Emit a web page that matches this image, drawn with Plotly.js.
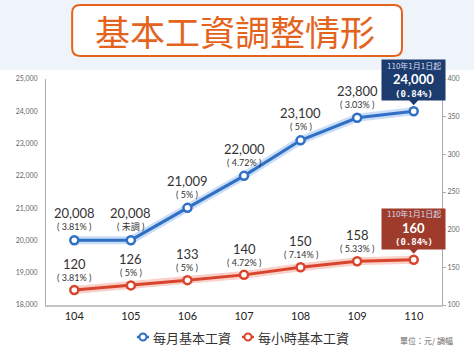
<!DOCTYPE html>
<html><head><meta charset="utf-8">
<script src="https://cdn.plot.ly/plotly-3.0.1.min.js"></script>
<style>html,body{margin:0;padding:0;background:#fff;}#chart{width:474px;height:354px;}</style>
</head><body><div id="chart"></div>
<script>
const years = ['104','105','106','107','108','109','110'];
const monthly = [20008,20008,21009,22000,23100,23800,24000];
const hourly = [120,126,133,140,150,158,160];
const monthlyPct = ['( 3.81% )','( 未調 )','( 5% )','( 4.72% )','( 5% )','( 3.03% )','(0.84%)'];
const hourlyPct = ['( 3.81% )','( 5% )','( 5% )','( 4.72% )','( 7.14% )','( 5.33% )','(0.84%)'];
const calloutDate = '110年1月1日起';
const seriesNames = ['每月基本工資','每小時基本工資'];
const titleText = '基本工資調整情形';
const unitText = '單位：元/ 調幅';

const BLUE = '#2f6fc4', RED = '#d8452c';
const BOXBLUE = '#1c3b6f', BOXRED = '#9e3b2b';
const FONT = 'Lato, "Noto Sans CJK TC", sans-serif';
const CJK = '"Noto Sans CJK TC", sans-serif';

const traces = [
  {x: years, y: monthly, mode: 'lines', line: {color: 'rgba(120,170,235,0.4)', width: 8}, hoverinfo: 'skip', showlegend: false},
  {x: years, y: hourly, yaxis: 'y2', mode: 'lines', line: {color: 'rgba(240,135,115,0.38)', width: 8}, hoverinfo: 'skip', showlegend: false},
  {x: years, y: monthly, name: seriesNames[0], mode: 'lines+markers', line: {color: BLUE, width: 3},
   marker: {size: 8, color: '#fff', line: {color: BLUE, width: 2.5}}, showlegend: false},
  {x: years, y: hourly, name: seriesNames[1], yaxis: 'y2', mode: 'lines+markers', line: {color: RED, width: 3},
   marker: {size: 8, color: '#fff', line: {color: RED, width: 2.5}}, showlegend: false}
];

const fmt = v => v.toLocaleString('en-US');
const ann = [];
const shapes = [
  {type: 'rect', xref: 'paper', yref: 'paper', x0: -0.2, x1: 1.1, y0: 1.04, y1: 1.36, fillcolor: '#eef4fa', line: {width: 0}, layer: 'below'},
  {type: 'path', xref: 'paper', yref: 'paper', layer: 'above',
   path: 'M 0.086 1.327 L 0.879 1.327 Q 0.899 1.327 0.899 1.292 L 0.899 1.137 Q 0.899 1.102 0.879 1.102 L 0.086 1.102 Q 0.066 1.102 0.066 1.137 L 0.066 1.292 Q 0.066 1.327 0.086 1.327 Z',
   fillcolor: '#ffffff', line: {color: '#e4641e', width: 2}}
];
const last = years.length - 1;
const base = {showarrow: false, xanchor: 'center', yanchor: 'middle', borderpad: 0};
for (let i = 0; i < last; i++) {
  ann.push({...base, x: i, y: monthly[i], yref: 'y', text: fmt(monthly[i]), yshift: 27, font: {family: FONT, size: 13, color: '#333'}});
  ann.push({...base, x: i, y: monthly[i], yref: 'y', text: monthlyPct[i], yshift: 13.5, font: {family: FONT, size: 9, color: '#333'}});
  ann.push({...base, x: i, y: hourly[i], yref: 'y2', text: fmt(hourly[i]), yshift: 26, font: {family: FONT, size: 13, color: '#333'}});
  ann.push({...base, x: i, y: hourly[i], yref: 'y2', text: hourlyPct[i], yshift: 12.5, font: {family: FONT, size: 9, color: '#333'}});
}
// callouts: box as an annotation background, pointer as a pixel-sized shape anchored on the last point
[[monthly[last], 'y', BOXBLUE, monthlyPct[last]], [hourly[last], 'y2', BOXRED, hourlyPct[last]]].forEach(([v, yr, col, pct]) => {
  ann.push({...base, x: last, y: v, yref: yr, text: ' ', yshift: 31, width: 63, height: 40, bgcolor: col, font: {size: 8}});
  shapes.push({type: 'path', xref: 'x', yref: yr, xsizemode: 'pixel', ysizemode: 'pixel', xanchor: last, yanchor: v,
    path: 'M -5 11.5 L 0 6 L 5 11.5 Z', fillcolor: col, line: {width: 0}, layer: 'above'});
  ann.push({...base, x: last, y: v, yref: yr, text: calloutDate, yshift: 46, font: {family: CJK, size: 8, color: '#d5dceb'}});
  ann.push({...base, x: last, y: v, yref: yr, text: '<b>' + fmt(v) + '</b>', yshift: 32, font: {family: FONT, size: 13, color: '#fff'}});
  ann.push({...base, x: last, y: v, yref: yr, text: '<b>' + pct + '</b>', yshift: 17.5, font: {family: '"DejaVu Sans Mono", monospace', size: 9, color: '#fff'}});
});
// title and unit
ann.push({...base, xref: 'paper', yref: 'paper', x: 0.478, y: 1.215, text: titleText, font: {family: CJK, size: 35, color: '#e4641e'}});
ann.push({...base, xref: 'paper', yref: 'paper', x: 1.03, y: -0.155, xanchor: 'right', text: unitText, font: {family: CJK, size: 8, color: '#666'}});
// legend (compact line+circle glyphs)
const legY = -0.1416;
[[0.2449, BLUE, seriesNames[0]], [0.5101, RED, seriesNames[1]]].forEach(([cx, col, name]) => {
  shapes.push({type: 'line', xref: 'paper', yref: 'paper', x0: cx - 0.0152, x1: cx + 0.0152, y0: legY, y1: legY, line: {color: col, width: 2.5}});
  shapes.push({type: 'circle', xref: 'paper', yref: 'paper', xsizemode: 'pixel', ysizemode: 'pixel', xanchor: cx, yanchor: legY,
    x0: -3.5, x1: 3.5, y0: -3.5, y1: 3.5, fillcolor: '#fff', line: {color: col, width: 2}});
  ann.push({...base, xref: 'paper', yref: 'paper', x: cx + 0.0228, y: legY, xanchor: 'left', text: name, font: {family: CJK, size: 13, color: '#333'}});
});

const layout = {
  width: 474, height: 354,
  margin: {l: 46, r: 32, t: 79, b: 49},
  paper_bgcolor: '#ffffff', plot_bgcolor: '#ffffff',
  font: {family: FONT},
  xaxis: {type: 'category', range: [-0.5, 6.5], showgrid: false, zeroline: false,
    showline: true, linecolor: '#c4c4c4', linewidth: 2, ticks: '',
    tickfont: {family: FONT, size: 11, color: '#222'}},
  yaxis: {range: [18000, 25000], dtick: 1000, tickformat: ',d', showgrid: false, zeroline: false,
    showline: true, linecolor: '#aaa', linewidth: 1, ticks: '', ticklabelstandoff: 6,
    tickfont: {family: FONT, size: 7, color: '#666'}},
  yaxis2: {overlaying: 'y', side: 'right', range: [100, 400], dtick: 50, showgrid: false, zeroline: false,
    showline: true, linecolor: '#aaa', linewidth: 1, ticks: 'outside', ticklen: 3, tickcolor: '#aaa',
    tickfont: {family: FONT, size: 7, color: '#666'}},
  shapes: shapes,
  annotations: ann,
  showlegend: false
};
Plotly.newPlot('chart', traces, layout, {displayModeBar: false, staticPlot: true});
</script></body></html>
